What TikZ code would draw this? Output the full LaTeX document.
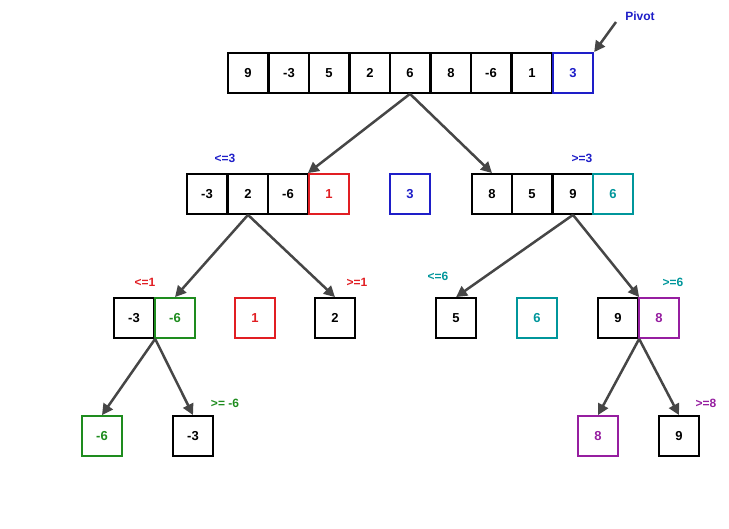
\documentclass[tikz,border=0pt]{standalone}
\usepackage{fontspec}
\setmainfont{Liberation Sans}
\usetikzlibrary{arrows.meta}
\definecolor{cred}{RGB}{225,30,35}
\definecolor{cblue}{RGB}{30,30,200}
\definecolor{cteal}{RGB}{0,150,155}
\definecolor{cgreen}{RGB}{30,140,30}
\definecolor{cpurp}{RGB}{150,30,160}
\definecolor{cgray}{RGB}{70,70,70}
\tikzset{
 cell/.style={draw=black,line width=1.8pt,minimum width=40.5pt,minimum height=40pt,inner sep=0pt,font=\bfseries\fontsize{13}{15}\selectfont},
 lbl/.style={font=\bfseries\fontsize{12}{14}\selectfont,inner sep=0pt},
 arr/.style={draw=cgray,line width=2.5pt,-{Triangle[length=11pt,width=11pt]}}
}
\begin{document}
\begin{tikzpicture}[x=1pt,y=-1pt]
\useasboundingbox (0,0) rectangle (729,529);
% level 1
\foreach \v/\x [count=\i] in {9/248,-3/289,5/329,2/370,6/410,8/451,-6/491,1/532}
  \node[cell] (t\i) at (\x,73) {\v};
\node[cell,draw=cblue,text=cblue] (t9) at (573,73) {3};
\node[lbl,text=cblue] (pv) at (640,16) {Pivot};
\coordinate (pva) at (616,22);
\draw[arr] (pva) -- (t9.north east);
% level 2
\foreach \v/\x [count=\i] in {-3/207,2/248,-6/288}
  \node[cell] (l\i) at (\x,194) {\v};
\node[cell,draw=cred,text=cred] (l4) at (329,194) {1};
\node[cell,draw=cblue,text=cblue] (m) at (410,194) {3};
\foreach \v/\x [count=\i] in {8/492,5/532,9/573}
  \node[cell] (r\i) at (\x,194) {\v};
\node[cell,draw=cteal,text=cteal] (r4) at (613,194) {6};
\node[lbl,text=cblue] at (225,158) {<=3};
\node[lbl,text=cblue] at (582,158) {>=3};
\draw[arr] (t5.south) -- (l4.north west);
\draw[arr] (t5.south) -- (r1.north);
% level 3
\node[cell] (a1) at (134,318) {-3};
\node[cell,draw=cgreen,text=cgreen] (a2) at (175,318) {-6};
\node[cell,draw=cred,text=cred] (b) at (255,318) {1};
\node[cell] (c) at (335,318) {2};
\node[cell] (d) at (456,318) {5};
\node[cell,draw=cteal,text=cteal] (e) at (537,318) {6};
\node[cell] (f1) at (618,318) {9};
\node[cell,draw=cpurp,text=cpurp] (f2) at (659,318) {8};
\node[lbl,text=cred] at (145,282) {<=1};
\node[lbl,text=cred] at (357,282) {>=1};
\node[lbl,text=cteal] at (438,276) {<=6};
\node[lbl,text=cteal] at (673,282) {>=6};
\draw[arr] (l2.south) -- (a2.north);
\draw[arr] (l2.south) -- (c.north);
\draw[arr] (r3.south) -- (d.north);
\draw[arr] (r3.south) -- (f1.north east);
% level 4
\node[cell,draw=cgreen,text=cgreen] (g) at (102,436) {-6};
\node[cell] (h) at (193,436) {-3};
\node[cell,draw=cpurp,text=cpurp] (i) at (598,436) {8};
\node[cell] (j) at (679,436) {9};
\node[lbl,text=cgreen] at (225,403) {>= -6};
\node[lbl,text=cpurp] at (706,403) {>=8};
\draw[arr] (a1.south east) -- (g.north);
\draw[arr] (a1.south east) -- (h.north);
\draw[arr] (f1.south east) -- (i.north);
\draw[arr] (f1.south east) -- (j.north);
\end{tikzpicture}
\end{document}
